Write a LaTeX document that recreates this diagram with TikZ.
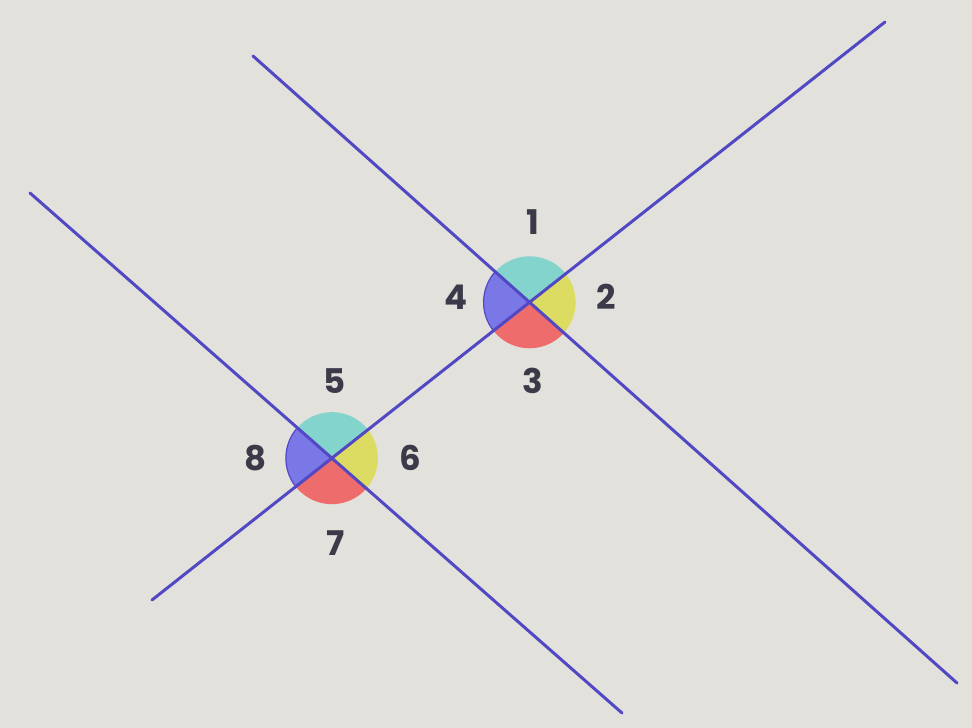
\documentclass[tikz,border=0pt]{standalone}
\usepackage{fontspec}
\setmainfont{Poppins}
\definecolor{bg}{HTML}{E3E1DC}
\definecolor{ln}{HTML}{5248C4}
\definecolor{sc}{HTML}{84D4CE}
\definecolor{sy}{HTML}{DCDC62}
\definecolor{sr}{HTML}{EE6C6C}
\definecolor{sb}{HTML}{7A78E6}
\definecolor{tx}{HTML}{3C3A48}
\tikzset{
  lineS/.style={draw=ln, line width=3pt, line cap=round},
  lbl/.style={text=tx, font=\fontsize{34}{34}\selectfont\bfseries, inner sep=0pt},
}
\begin{document}
\begin{tikzpicture}[x=1pt,y=1pt]
\fill[bg] (0,0) rectangle (972,728);
\useasboundingbox (0,0) rectangle (972,728);
% line end points
\coordinate (T1) at (152,128);
\coordinate (T2) at (885,706);
\coordinate (U1) at (253,672);
\coordinate (U2) at (957,45);
\coordinate (L1) at (30,535);
\coordinate (L2) at (622,15);
\coordinate (P1) at (intersection of T1--T2 and U1--U2);
\coordinate (P2) at (intersection of T1--T2 and L1--L2);
% sectors
\foreach \P in {P1,P2}{
  \fill[sc] (\P) -- ++(38.3:46) arc[start angle=38.3, end angle=138.3, radius=46] -- cycle;
  \fill[sb, draw=ln, line width=1.2pt] (\P) -- ++(138.3:46) arc[start angle=138.3, end angle=218.3, radius=46] -- cycle;
  \fill[sr] (\P) -- ++(218.3:46) arc[start angle=218.3, end angle=318.3, radius=46] -- cycle;
  \fill[sy] (\P) -- ++(318.3:46) arc[start angle=-41.7, end angle=38.3, radius=46] -- cycle;
}
% lines
\draw[lineS] (T1) -- (T2);
\draw[lineS] (U1) -- (U2);
\draw[lineS] (L1) -- (L2);
% labels
\node[lbl] (n1) at (533,506) {1};
\node[lbl] (n2) at (606,431) {2};
\node[lbl] (n3) at (533,347) {3};
\node[lbl] (n4) at (456,431) {4};
\node[lbl] (n5) at (335,347) {5};
\node[lbl] (n6) at (410,270) {6};
\node[lbl] (n7) at (336,185) {7};
\node[lbl] (n8) at (256,270) {8};
\end{tikzpicture}
\end{document}
